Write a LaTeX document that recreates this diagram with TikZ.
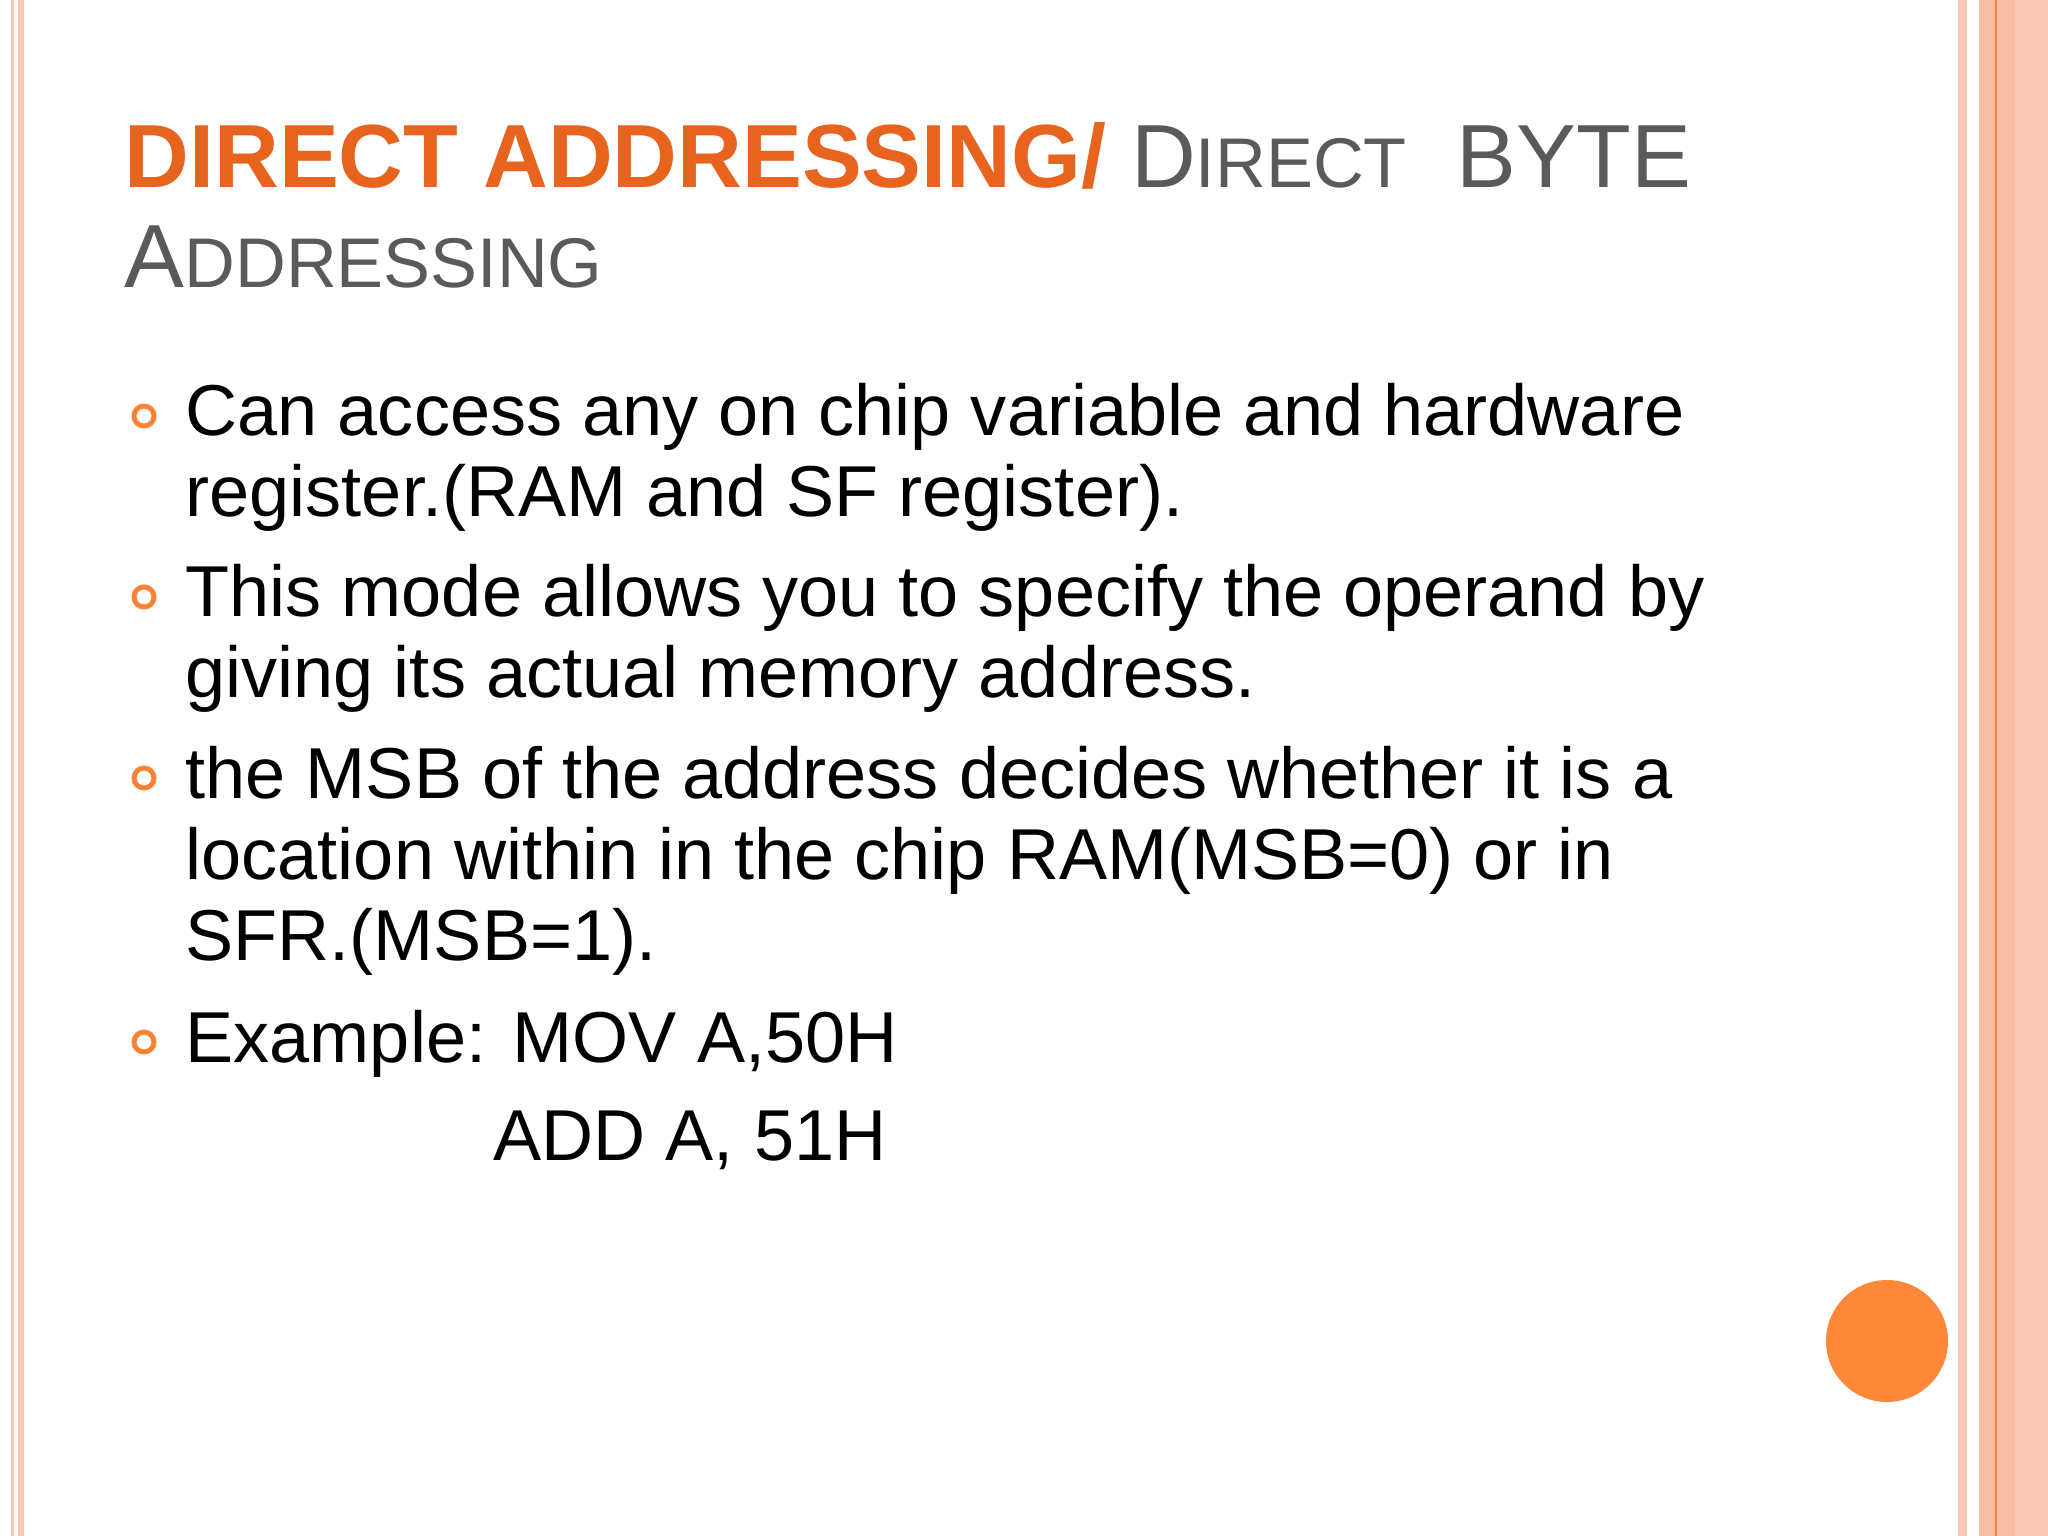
\documentclass[tikz,border=0pt]{standalone}
\usepackage{fontspec}
\setmainfont{Liberation Sans}
\definecolor{pk}{RGB}{250,200,180}
\definecolor{pkd}{RGB}{248,190,165}
\definecolor{org}{RGB}{250,130,50}
\definecolor{ttl}{RGB}{232,100,30}
\definecolor{gry}{RGB}{90,90,90}
\begin{document}
\begin{tikzpicture}[x=0.01cm,y=-0.01cm,
  body/.style={anchor=base west,inner sep=0,font=\fontsize{20.5}{24}\selectfont},
  bul/.style={draw=org,line width=1.4pt,circle,minimum size=0.2cm,inner sep=0}]
\useasboundingbox (0,0) rectangle (2048,1536);
\fill[white] (0,0) rectangle (2048,1536);
\fill[pk] (11,0) rectangle (14,1536);
\fill[pk] (18,0) rectangle (24,1536);
\fill[pk] (1958,0) rectangle (1967,1536);
\fill[pkd] (1979,0) rectangle (2015,1536);
\fill[pk] (2015,0) rectangle (2048,1536);
\fill[org] (1995,0) rectangle (1997,1536);
\node[anchor=base west,inner sep=0] (t1) at (124,187) {{\color{ttl}\bfseries\fontsize{25.5}{30}\selectfont DIRECT ADDRESSING/}\color{gry}\fontsize{25.5}{30}\selectfont\ D{\fontsize{20}{24}\selectfont IRECT}\ \ BYTE};
\node[anchor=base west,inner sep=0] (t2) at (124,287) {\color{gry}\fontsize{25.5}{30}\selectfont A{\fontsize{20}{24}\selectfont DDRESSING}};
\foreach \n/\y in {1/416,2/597,3/778,4/1042} \node[bul] (b\n) at (144,\y) {};
\node[body] (l1) at (185,435) {Can access any on chip variable and hardware};
\node[body] (l2) at (185,516) {register.(RAM and SF register).};
\node[body] (l3) at (185,616) {This mode allows you to specify the operand by};
\node[body] (l4) at (185,697) {giving its actual memory address.};
\node[body] (l5) at (185,798) {the MSB of the address decides whether it is a};
\node[body] (l6) at (185,879) {location within in the chip RAM(MSB=0) or in};
\node[body] (l7) at (185,960) {SFR.(MSB=1).};
\node[body] (l8) at (185,1062) {Example: MOV A,50H};
\node[body] (l9) at (493,1160) {ADD A, 51H};
\fill[org!90!red!0] (1887,1341) circle (61);
\fill[color={rgb,255:red,253;green,136;blue,58}] (1887,1341) circle (61);
\end{tikzpicture}
\end{document}
